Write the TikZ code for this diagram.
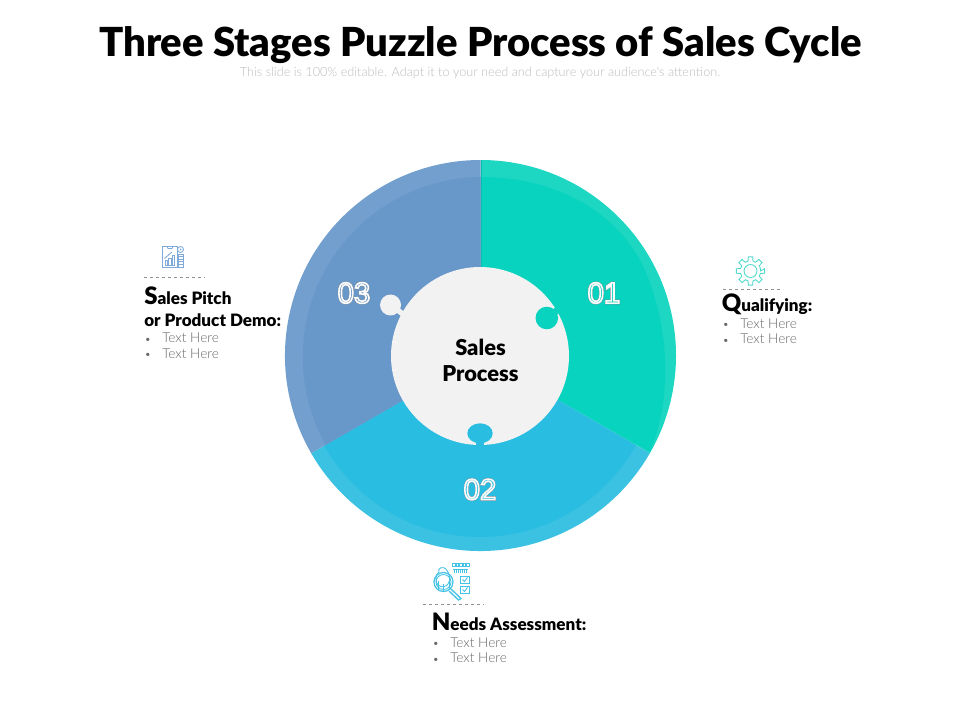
\documentclass[tikz,border=0pt]{standalone}
\usepackage{fontspec}
\setmainfont{Lato}
\newfontfamily\heavy{Lato Black}
\newfontfamily\lite{Lato Light}
\newfontfamily\numf{Liberation Sans}
\usetikzlibrary{calc}
\definecolor{tealD}{HTML}{08D3BF}
\definecolor{tealL}{HTML}{1ED7C3}
\definecolor{tealS}{HTML}{06BFAD}
\definecolor{cyanD}{HTML}{2ABDE2}
\definecolor{cyanL}{HTML}{3BC2E3}
\definecolor{blueD}{HTML}{6897C9}
\definecolor{blueL}{HTML}{729FCE}
\definecolor{hub}{HTML}{F2F2F2}
\definecolor{greyT}{HTML}{666666}
\definecolor{greyS}{HTML}{BDBDBD}
\definecolor{iconB}{HTML}{7FAADA}
\definecolor{iconT}{HTML}{4FDACB}
\definecolor{iconC}{HTML}{45C3E6}
\tikzset{
  x=0.75pt,y=-0.75pt,
  lbl/.style={inner sep=0pt,anchor=base west,text=black,font=\heavy\fontsize{12.8}{15}\selectfont},
  itm/.style={inner sep=0pt,anchor=base west,text=greyT,font=\lite\fontsize{10.2}{12}\selectfont},
  dotm/.style={inner sep=0pt,anchor=base west,text=greyT,font=\fontsize{6.5}{8}\selectfont},
  num/.style={inner sep=0pt,font=\numf\fontsize{22}{24}\selectfont},
  rulel/.style={draw=gray!85,line width=0.4pt,dash pattern=on 2.6pt off 1.9pt},
  icn/.style={line width=0.65pt,fill=none},
}
% from angle, to angle, light colour, dark colour, inner centre x, y, inner radius
\newcommand{\sector}[7]{%
  \fill[#3] (480.5,355.5) -- ++({195.5*cos(#1)},{-195.5*sin(#1)})
    arc[start angle=-#1,end angle=-#2,radius=195.5] -- cycle;
  \begin{scope}
    \clip (480.5,355.5) -- ++({195.5*cos(#1)},{-195.5*sin(#1)})
      arc[start angle=-#1,end angle=-#2,radius=195.5] -- cycle;
    \fill[#4] (#5,#6) circle[radius=#7];
  \end{scope}}
\newcommand{\outlined}[5]{%
  \node[num,text=#4] (#5) at (#1,#2) {\rlap{\special{pdf:code 2 Tr 1.75 w 0.5 0.55 0.58 RG}#3}\special{pdf:code 2 Tr 1.2 w 0.99 0.99 0.99 RG}#3\special{pdf:code 0 Tr 1 w 0 0 0 RG}};}
\newcommand{\hd}[1]{{\fontsize{18}{20}\selectfont #1}}
\begin{document}
\begin{tikzpicture}
\useasboundingbox (0,0) rectangle (960,720);
\fill[white] (0,0) rectangle (960,720);
\node[inner sep=0pt,font=\heavy\fontsize{30}{34}\selectfont] (title) at (480.5,45.5) {Three Stages Puzzle Process of Sales Cycle};
\node[inner sep=0pt,text=greyS,font=\lite\fontsize{9.5}{11}\selectfont] (sub) at (480,73.5) {This slide is 100\% editable. Adapt it to your need and capture your audience's attention.};
% ring
\fill[tealL] (480.5,355.5) -- ++({195.5*cos(90)},{-195.5*sin(90)})
    arc[start angle=-90,end angle=30,radius=195.5] -- cycle;
\fill[tealD] (480.5,355.5) -- (480.5,177) .. controls (560,177) and (620,215) .. (645,270)
    .. controls (664,315) and (677,385) .. (650,452) -- cycle;
\sector{-30}{-150}{cyanL}{cyanD}{480}{358.5}{178.5}
\sector{-150}{-270}{blueL}{blueD}{482.8}{357}{180}
\fill[tealS] (480.5,160) rectangle (482,270);
% hub
\fill[hub] (480,356) circle[radius=89];
% tabs
\fill[hub] (390.5,305) circle[radius=10.5];
\draw[hub,line width=4pt] (395,308) -- (404,315);
\fill[tealD] (546.8,318) circle[radius=11.3];
\draw[tealD,line width=5pt] (549,315) -- (560,309);
\fill[cyanD] (480,433.3) ellipse[x radius=12.7,y radius=10];
\fill[cyanD] (476,440) rectangle (484,447);
% centre label
\node[inner sep=0pt,align=center,font=\heavy\fontsize{16.4}{19.5}\selectfont] (centre) at (480.5,360.5) {Sales\\Process};
% numbers
\outlined{604}{293}{01}{tealD}{n1}
\outlined{480}{489.5}{02}{cyanD}{n2}
\outlined{354}{293}{03}{blueD}{n3}
% left block
\draw[rulel] (144,277.3) -- (205,277.3);
\node[lbl] (h3a) at (144,305) {\hd{S}ales Pitch};
\node[lbl] (h3b) at (144,326) {or Product Demo:};
\node[dotm] (b3a) at (145,342) {•}; \node[itm] (t3a) at (162,342.3) {Text Here};
\node[dotm] (b3b) at (145,357.7) {•}; \node[itm] (t3b) at (162,358) {Text Here};
% right block
\draw[rulel] (723,289.3) -- (783,289.3);
\node[lbl] (h1) at (721.5,311) {\hd{Q}ualifying:};
\node[dotm] (b1a) at (723,327.7) {•}; \node[itm] (t1a) at (740,328) {Text Here};
\node[dotm] (b1b) at (723,343.3) {•}; \node[itm] (t1b) at (740,343.8) {Text Here};
% bottom block
\draw[rulel] (423,604.3) -- (484,604.3);
\node[lbl] (h2) at (431.5,630) {\hd{N}eeds Assessment:};
\node[dotm] (b2a) at (433,646.7) {•}; \node[itm] (t2a) at (450,647) {Text Here};
\node[dotm] (b2b) at (433,662.3) {•}; \node[itm] (t2b) at (450,662.8) {Text Here};
% gear icon
\begin{scope}[shift={(750.5,271)},icn,draw=iconT]
\draw (0,0) circle[radius=6.5];
\draw (0:10) \foreach \a in {0,45,...,315}{
  -- (\a-9:14.3) -- (\a+9:14.3) -- (\a+14:10.2) -- (\a+31:10.2)
} -- cycle;
\end{scope}
% chart icon
\begin{scope}[icn,draw=iconB]
\draw (162.5,246.5) rectangle (177,267.5);
\draw (167,246.5) -- (168,248.5) -- (172,248.5) -- (173,246.5);
\draw (165,265.5) rectangle (167.5,260.5);
\draw (168.5,265.5) rectangle (171,258);
\draw (172,265.5) rectangle (174.5,255.5);
\draw (164.5,258.5) -- (172,252) ;
\draw (180.5,249.5) circle[radius=3];
\fill[iconB] (180.5,249.5) circle[radius=1];
\draw (178.5,254) rectangle (183,267);
\foreach \y in {256.5,259,261.5,264}{\draw (178.5,\y) -- (183,\y);}
\end{scope}
% needs icon
\begin{scope}[icn,draw=iconC]
\draw[line width=0.9pt] (443.5,582) circle[radius=9.5];
\draw (443.5,582) circle[radius=7.5];
\draw[line width=1pt] (451,589) -- (461,598.5) -- (458.5,600) -- (449,591);
\draw (439,572) .. controls (434,575) and (436,583) .. (438,585) .. controls (441,588) and (446,587) .. (448,584) .. controls (451,580) and (450,574) .. (446,569) .. controls (443,566) and (437,568) .. (439,572);
\draw (438,590) -- (438,581) (449,590) -- (449,581);
\draw (443.5,584) -- (443.5,591);
\fill[iconC] (452,563) rectangle (470,567);
\foreach \x in {454,457.5,461,464.5,468}{\fill[white] (\x-0.8,564.2) rectangle (\x+0.8,565.8);}
\draw (453,569) -- (468,569);
\foreach \x in {454,456,...,466}{\draw (\x,570) -- (\x,572.5);}
\draw (460.5,576) rectangle (469,583.5);
\draw (462.5,579.5) -- (464.5,581.5) -- (467.5,577.5);
\draw (460.5,586) rectangle (469,593.5);
\draw (462.5,589.5) -- (464.5,591.5) -- (467.5,587.5);
\end{scope}
\end{tikzpicture}
\end{document}
